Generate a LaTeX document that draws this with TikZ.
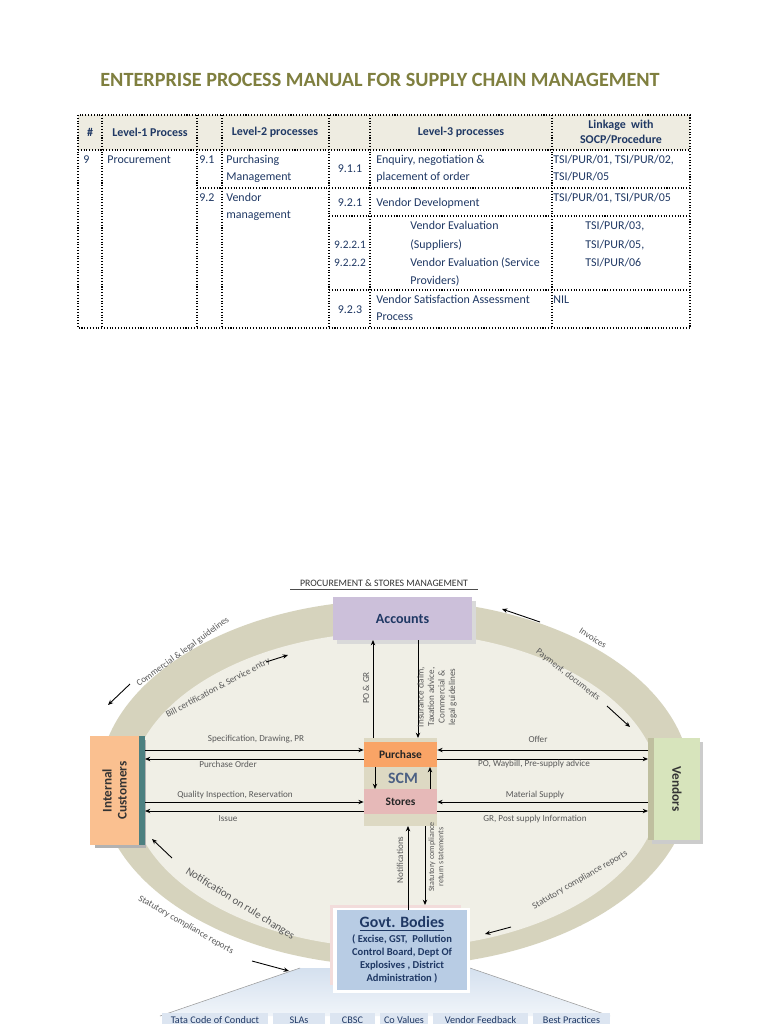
\documentclass[tikz,border=0pt]{standalone}
\usepackage{fontspec}
\setmainfont{Carlito}
\usetikzlibrary{arrows.meta}
\definecolor{tblue}{HTML}{1F3864}
\definecolor{olive}{HTML}{7F7F3F}
\definecolor{hdr}{HTML}{EEECE1}
\definecolor{ring}{HTML}{D6D3BD}
\definecolor{inner}{HTML}{F0EFE6}
\definecolor{acc}{HTML}{CCC0DA}
\definecolor{peach}{HTML}{FAC090}
\definecolor{vend}{HTML}{D7E4BC}
\definecolor{scm}{HTML}{DDD9C3}
\definecolor{purch}{HTML}{F9A466}
\definecolor{stor}{HTML}{E6B9B8}
\definecolor{govt}{HTML}{B8CCE4}
\definecolor{gsh}{HTML}{F2DCDB}
\definecolor{lbl}{HTML}{595959}
\tikzset{
 tt/.style={font=\fontsize{6.8}{8.5}\selectfont, text=tblue, inner sep=0pt},
 th/.style={tt, font=\fontsize{6.8}{8.5}\selectfont\bfseries},
 grid/.style={densely dotted, line width=0.6pt},
 lab/.style={font=\fontsize{5.2}{6}\selectfont, text=lbl, inner sep=0pt},
 clab/.style={font=\fontsize{5.2}{6}\selectfont, text=lbl, inner sep=0pt},
 arr/.style={-{Stealth[length=3pt,width=2.5pt]}, line width=0.5pt},
 box/.style={draw=none, inner sep=0pt},
}
\begin{document}
\begin{tikzpicture}[x=0.02cm,y=-0.02cm]
\useasboundingbox (0,0) rectangle (768,1024);
\fill[white] (0,0) rectangle (768,1024);
% title
\node[font=\fontsize{11.5}{13}\selectfont\bfseries, text=olive] (title) at (380,80) {ENTERPRISE PROCESS MANUAL FOR SUPPLY CHAIN MANAGEMENT};
% table
\fill[hdr] (78,115) rectangle (690,150);
\draw[grid] (78,115) rectangle (690,328);
\draw[grid] (78,150) -- (690,150);
\draw[grid] (197,188) -- (690,188);
\draw[grid] (329,216) -- (690,216);
\draw[grid] (329,290) -- (690,290);
\foreach \x in {102,197,222,329,370,552} \draw[grid] (\x,115) -- (\x,328);
\node[th] (h1) at (90,132) {\#};
\node[th] (h2) at (150,132) {Level-1 Process};
\node[th] (h3) at (275,132) {Level-2 processes};
\node[th] (h4) at (461,132) {Level-3 processes};
\node[th, align=center] (h5) at (621,132) {Linkage\ \ with\\SOCP/Procedure};
\node[tt, anchor=north west] (c1) at (83,155) {9};
\node[tt, anchor=north west] (c2) at (107,155) {Procurement};
\node[tt, anchor=north west] (c3) at (199,155) {9.1};
\node[tt, anchor=north west, align=left] (c4) at (226,155) {Purchasing\\[1pt]Management};
\node[tt] (c5) at (350,169) {9.1.1};
\node[tt, anchor=north west, align=left] (c6) at (376,155) {Enquiry, negotiation \&\\[1pt]placement of order};
\node[tt, anchor=north west, align=left] (c7) at (553,155) {TSI/PUR/01, TSI/PUR/02,\\[1pt]TSI/PUR/05};
\node[tt, anchor=north west] (d3) at (199,193) {9.2};
\node[tt, anchor=north west, align=left] (d4) at (226,193) {Vendor\\[1pt]management};
\node[tt] (d5) at (350,203) {9.2.1};
\node[tt, anchor=west] (d6) at (376,203) {Vendor Development};
\node[tt, anchor=north west] (d7) at (553,193) {TSI/PUR/01, TSI/PUR/05};
\node[tt, align=left, font=\fontsize{6.5}{8}\selectfont] (e5) at (350,254) {9.2.2.1\\[2pt]9.2.2.2};
\node[tt, anchor=north west, align=left] (e6) at (410,221) {Vendor Evaluation\\[2pt](Suppliers)\\[2pt]Vendor Evaluation (Service\\[2pt]Providers)};
\node[tt, anchor=north west, align=left] (e7) at (585,221) {TSI/PUR/03,\\[2pt]TSI/PUR/05,\\[2pt]TSI/PUR/06};
\node[tt] (f5) at (350,310) {9.2.3};
\node[tt, anchor=north west, align=left] (f6) at (376,295) {Vendor Satisfaction Assessment\\[1pt]Process};
\node[tt, anchor=north west] (f7) at (553,295) {NIL};
% diagram header
\node[font=\fontsize{5.6}{6.5}\selectfont, text=black!80] (dh) at (384,583) {PROCUREMENT \& STORES MANAGEMENT};
\draw[black!70, line width=0.4pt] (290,589) -- (478,589);
% ellipse ring
\fill[ring] (395,783) ellipse [x radius=296, y radius=183];
\fill[inner] (395,790) ellipse [x radius=265, y radius=158];
% bottom trapezoid
\shade[top color=govt!60, bottom color=govt!20] (300,968) -- (470,968) -- (610,1016) -- (160,1016) -- cycle;
\draw[black!40, line width=0.3pt] (300,968) -- (160,1016);
\draw[black!40, line width=0.3pt] (470,968) -- (610,1016);
\foreach \t/\a/\b in {Tata Code of Conduct/162/268, SLAs/273/325, CBSC/330/375, Co Values/380/428, Vendor Feedback/433/528, Best Practices/533/610}{
  \fill[govt!50] (\a,1013) rectangle (\b,1024);
  \node[font=\fontsize{5.8}{6.5}\selectfont, text=tblue] at ({(\a+\b)/2},1020) {\t};
}
% boxes
\fill[black!15] (337,601) rectangle (476,644);
\node[box, fill=acc, minimum width=139*0.02cm, minimum height=43*0.02cm, font=\fontsize{8}{9}\selectfont\bfseries, text=tblue] (acc) at (402.5,618.5) {Accounts};
\fill[black!30] (95,740) rectangle (146,848);
\fill[teal!40!gray] (139,736) rectangle (145,845);
\node[box, fill=peach, minimum height=49*0.02cm, minimum width=109*0.02cm, font=\fontsize{7.5}{8.5}\selectfont\bfseries, text=black!80, align=center, rotate=90] (ic) at (114.5,790.5) {Internal\\Customers};
\fill[black!20] (652,742) rectangle (703,844);
\fill[olive!50] (648,738) rectangle (654,840);
\node[box, fill=vend, minimum height=46*0.02cm, minimum width=102*0.02cm, font=\fontsize{7.5}{8.5}\selectfont\bfseries, text=black!80, rotate=-90] (ven) at (677,789) {Vendors};
\node[box, fill=scm, minimum width=73*0.02cm, minimum height=88*0.02cm] (scm) at (400.5,782) {};
\node[font=\fontsize{9}{10}\selectfont\bfseries, text=tblue!80] (scml) at (403,778) {SCM};
\node[box, fill=purch, minimum width=73*0.02cm, minimum height=25*0.02cm, font=\fontsize{6.5}{7.5}\selectfont\bfseries, text=black!85] (pur) at (400.5,754.5) {Purchase};
\node[box, fill=stor, minimum width=73*0.02cm, minimum height=25*0.02cm, font=\fontsize{6.5}{7.5}\selectfont\bfseries, text=black!85] (sto) at (400.5,801.5) {Stores};
\fill[gsh] (330,905) rectangle (461,985);
\fill[white] (333,908) rectangle (470,993);
\node[box, fill=govt, minimum width=130*0.02cm, minimum height=80*0.02cm, font=\fontsize{6}{7.5}\selectfont\bfseries, text=tblue, align=center] (gov) at (402,950) {\fontsize{9}{11}\selectfont\underline{Govt. Bodies}\\[1pt]( Excise, GST,\ \ Pollution\\Control Board, Dept Of\\Explosives , District\\Administration )};
% horizontal arrows
\draw[arr] (145,750) -- (pur.west |- 0,750);
\draw[arr] (pur.west |- 0,759) -- (145,759);
\draw[arr] (648,750) -- (pur.east |- 0,750);
\draw[arr] (pur.east |- 0,759) -- (648,759);
\draw[arr] (145,802) -- (sto.west |- 0,802);
\draw[arr] (sto.west |- 0,811) -- (145,811);
\draw[arr] (648,802) -- (sto.east |- 0,802);
\draw[arr] (sto.east |- 0,811) -- (648,811);
\node[lab] at (256,739) {Specification, Drawing, PR};
\node[lab] at (228,764) {Purchase Order};
\node[lab] at (538,739) {Offer};
\node[lab] at (534,764) {PO, Waybill, Pre-supply advice};
\node[lab] at (235,795) {Quality Inspection, Reservation};
\node[lab] at (228,819) {Issue};
\node[lab] at (535,795) {Material Supply};
\node[lab] at (535,819) {GR, Post supply Information};
% vertical arrows
\draw[arr] (373,738) -- (373,640);
\draw[arr] (418,640) -- (418,738);
\node[lab, rotate=90] at (366,688) {PO \& GR};
\node[lab, rotate=90, align=center] at (437,697) {Insurance claim,\\Taxation advice,\\Commercial \&\\legal guidelines};
\draw[arr] (375,767) -- (375,789);
\draw[arr] (430,789) -- (430,767);
\draw[arr] (408,910) -- (408,826);
\draw[arr] (425,826) -- (425,905);
\node[lab, rotate=90] at (400,860) {Notifications};
\node[lab, rotate=90, align=center, font=\fontsize{4.6}{5.2}\selectfont] at (436,857) {Statutory compliance\\return statements};
% curved labels and arrows
\node[clab, rotate=36] at (183,652) {Commercial \& legal guidelines};
\draw[arr] (130,684) -- (108,705);
\node[clab, rotate=28] at (218,688) {Bill certification \& Service entry};
\draw[arr] (266,662) -- (288,655);
\node[clab, rotate=-32] at (593,638) {Invoices};
\draw[arr] (540,622) -- (502,609);
\node[clab, rotate=-38] at (568,675) {Payment, documents};
\draw[arr] (607,706) -- (630,727);
\node[clab, rotate=-32, font=\fontsize{6.3}{7}\selectfont] at (240,904) {Notification on rule changes};
\draw[arr] (172,858) -- (152,839);
\node[clab, rotate=-30] at (186,925) {Statutory compliance reports};
\draw[arr] (252,961) -- (289,971);
\node[clab, rotate=30] at (580,880) {Statutory compliance reports};
\draw[arr] (511,927) -- (485,934);
\end{tikzpicture}
\end{document}
